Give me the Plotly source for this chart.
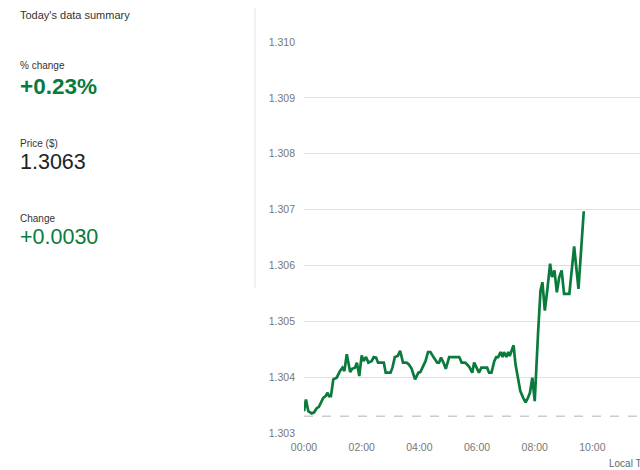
import plotly.graph_objects as go
import pandas as pd

# ---- data ----
minutes = [0, 4, 9, 16, 21, 26, 31, 35, 40, 45, 49, 52, 56, 61, 68, 75, 80, 84, 89, 96,
           100, 106, 110, 115, 120, 124, 129, 134, 141, 145, 150, 154, 166, 170, 180, 184,
           189, 195, 200, 206, 213, 218, 224, 231, 238, 242, 248, 253, 258, 263, 270, 277,
           281, 285, 290, 295, 302, 323, 328, 335, 339, 344, 350, 354, 359, 364, 369, 381,
           385, 390, 396, 400, 404, 409, 413, 416, 421, 425, 428, 432, 436, 440, 445, 450,
           456, 461, 466, 470, 475, 480, 487, 492, 496, 501, 506, 512, 516, 521, 526, 531,
           536, 541, 552, 562, 571, 582]
prices = [1.30339, 1.30360, 1.30339, 1.30335, 1.30337, 1.30344, 1.30347, 1.30355, 1.30363,
          1.30366, 1.30372, 1.30366, 1.30366, 1.30396, 1.30399, 1.30411, 1.30417, 1.30411,
          1.30441, 1.30409, 1.30415, 1.30417, 1.30426, 1.30402, 1.30439, 1.30429, 1.30436,
          1.30426, 1.30429, 1.30436, 1.30435, 1.30426, 1.30426, 1.30408, 1.30408, 1.30417,
          1.30436, 1.30438, 1.30447, 1.30426, 1.30426, 1.30423, 1.30415, 1.30396, 1.30408,
          1.30409, 1.30420, 1.30429, 1.30445, 1.30445, 1.30435, 1.30426, 1.30426, 1.30435,
          1.30426, 1.30415, 1.30436, 1.30436, 1.30426, 1.30426, 1.30423, 1.30418, 1.30408,
          1.30426, 1.30417, 1.30408, 1.30417, 1.30417, 1.30408, 1.30408, 1.30429, 1.30436,
          1.30436, 1.30445, 1.30436, 1.30445, 1.30436, 1.30445, 1.30438, 1.30449, 1.30457,
          1.30423, 1.30396, 1.30375, 1.30363, 1.30355, 1.30363, 1.30372, 1.30399, 1.30357,
          1.30480, 1.30555, 1.30570, 1.30519, 1.30555, 1.30603, 1.30579, 1.30591, 1.30552,
          1.30579, 1.30591, 1.30549, 1.30549, 1.30634, 1.30558, 1.30697]
prev_close = 1.3033
y_ticks = [1.303, 1.304, 1.305, 1.306, 1.307, 1.308, 1.309, 1.310]
x_tick_labels = ["00:00", "02:00", "04:00", "06:00", "08:00", "10:00"]
summary_title = "Today's data summary"
pct_change = "+0.23%"
price_now = "1.3063"
change_abs = "+0.0030"

day = pd.Timestamp("2024-01-01")
xs = [day + pd.Timedelta(minutes=m) for m in minutes]
x_tickvals = [day + pd.Timedelta(hours=int(t[:2])) for t in x_tick_labels]
x_end = day + pd.Timedelta(minutes=699)

GREEN = "#0b7a3d"
FONT = "Liberation Sans, Arial, sans-serif"

W, H = 640, 470
L, R, T, B = 304, 0, 42, 37
pw, ph = W - L - R, H - T - B


def px(x):
    return (x - L) / pw


def py(y):
    return (H - B - y) / ph


fig = go.Figure()
fig.add_trace(go.Scatter(x=xs, y=prices, mode="lines",
                         line=dict(color=GREEN, width=2.7), hoverinfo="skip"))

fig.add_shape(type="line", xref="x", yref="y", x0=day, x1=x_end,
              y0=prev_close, y1=prev_close,
              line=dict(color="#cccccc", width=1.5, dash="dash"))
fig.add_shape(type="line", xref="paper", yref="paper", x0=px(255), x1=px(255),
              y0=py(8), y1=py(288), line=dict(color="#e3e3e3", width=1))

ann = [
    (summary_title, 18, 15, 11, "#333333", False),
    ("% change", 18, 65, 10, "#333333", False),
    (pct_change, 18, 86, 22.5, GREEN, True),
    ("Price ($)", 18, 143, 10, "#333333", False),
    (price_now, 18, 162, 21.5, "#222222", False),
    ("Change", 18, 218, 10, "#333333", False),
    (change_abs, 18, 237, 21.5, GREEN, False),
]
for text, x, y, size, color, bold in ann:
    fig.add_annotation(text=f"<b>{text}</b>" if bold else text, xref="paper", yref="paper",
                       x=px(x), y=py(y), xanchor="left", yanchor="middle", showarrow=False,
                       font=dict(size=size, color=color, family=FONT))

fig.add_annotation(text="Local Time", xref="paper", yref="paper", x=px(607), y=py(463),
                   xanchor="left", yanchor="middle", showarrow=False,
                   font=dict(size=10, color="#666666", family=FONT))

fig.update_layout(
    width=W, height=H, margin=dict(l=L, r=R, t=T, b=B),
    paper_bgcolor="white", plot_bgcolor="white", showlegend=False,
    font=dict(family=FONT),
    xaxis=dict(range=[day, x_end], tickvals=x_tickvals, ticktext=x_tick_labels,
               showgrid=False, zeroline=False, showline=False, ticks="",
               tickfont=dict(size=10.5, color="#777777"), ticklabelstandoff=6),
    yaxis=dict(range=[1.303, 1.310], tickvals=y_ticks,
               ticktext=[f"{v:.3f}" for v in y_ticks],
               showgrid=True, gridcolor="#e0e0e0", gridwidth=1, zeroline=False,
               showline=False, ticks="", tickfont=dict(size=10.5, color="#777777"),
               ticklabelstandoff=8),
)

fig.write_html("out.html")
